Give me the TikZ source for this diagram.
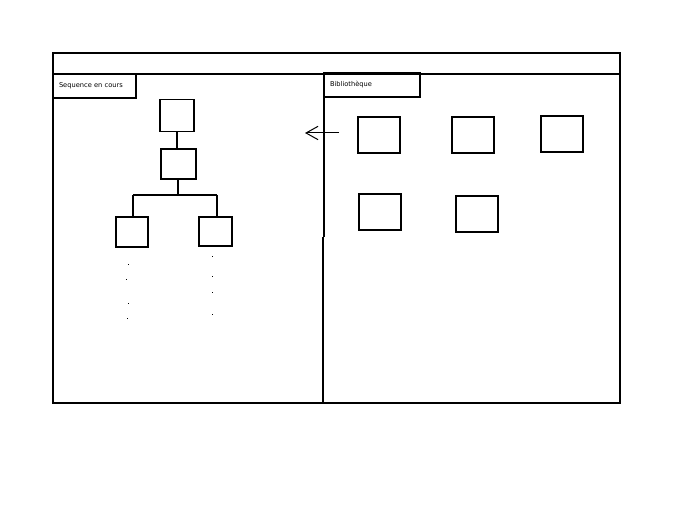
\documentclass[tikz,border=0pt]{standalone}
\usepackage{fontspec}
\setsansfont{DejaVu Sans}
\usetikzlibrary{arrows.meta}

\tikzset{
  frameline/.style={draw=drawColor,line width=0.85pt},
  box/.style={frameline,rectangle,inner sep=0pt,outer sep=0pt},
  seqbox/.style={box,minimum width=25.5pt,minimum height=23.5pt},
  libbox/.style={box,minimum width=31.5pt,minimum height=27pt},
  titlebox/.style={box,minimum height=18pt,inner xsep=4.5pt,align=left,
    font=\sffamily\fontsize{5}{6}\selectfont},
  dotmark/.style={fill=drawColor,inner sep=0pt,minimum size=0.7pt,rectangle}
}

\begin{document}
\begin{tikzpicture}[x=0.75pt,y=-0.75pt]
\definecolor{fillColor}{RGB}{255,255,255}
\definecolor{drawColor}{RGB}{0,0,0}
\path[use as bounding box,fill=fillColor] (0,0) rectangle (688,509);

% outer frame and header strip
\path[frameline] ( 53, 53) rectangle (620,403);
\path[frameline] ( 53, 74) -- (620, 74);
\path[frameline] (324, 74) -- (324,237);
\path[frameline] (323,237) -- (323,403);

% panel titles
\node[titlebox,anchor=north west,text width=53.25pt] (seqtitle) at ( 53, 74) {Sequence en cours};
\node[titlebox,anchor=north west,text width=63pt] (libtitle) at (324, 73) {Biblioth\`eque};

% current sequence tree
\node[seqbox] (root) at (177,115.5) {};
\node[seqbox,minimum width=26.25pt,minimum height=22.5pt] (mid) at (178.5,164) {};
\node[seqbox,minimum width=24pt,minimum height=22.5pt] (leafl) at (132,232) {};
\node[seqbox,minimum width=24.75pt,minimum height=21.75pt] (leafr) at (215.5,231.5) {};

\coordinate (fork) at (178,195);
\coordinate (forkl) at (133,195);
\coordinate (forkr) at (217,195);

\path[frameline] (root.south) -- (root.south |- mid.north);
\path[frameline] (fork |- mid.south) -- (fork);
\path[frameline] (forkl) -- (forkr);
\path[frameline] (forkl) -- (forkl |- leafl.north);
\path[frameline] (forkr) -- (forkr |- leafr.north);

% continuation dots
\foreach \px/\py in {128/264,126/279,128/303,127/318,212/256,212/276,212/292,212/314}
  \node[dotmark] (dot-\px-\py) at (\px,\py) {};

% library items
\node[libbox] (item1) at (379,135) {};
\node[libbox] (item2) at (473,135) {};
\node[libbox] (item3) at (562,134) {};
\node[libbox] (item4) at (380,212) {};
\node[libbox] (item5) at (477,214) {};

% drag arrow
\coordinate (dragfrom) at (339,133);
\coordinate (dragto) at (305,133);
\draw[draw=drawColor,line width=0.75pt,-{Straight Barb[length=9pt,width=10pt,line width=0.75pt]}] (dragfrom) -- (dragto);
\end{tikzpicture}
\end{document}
